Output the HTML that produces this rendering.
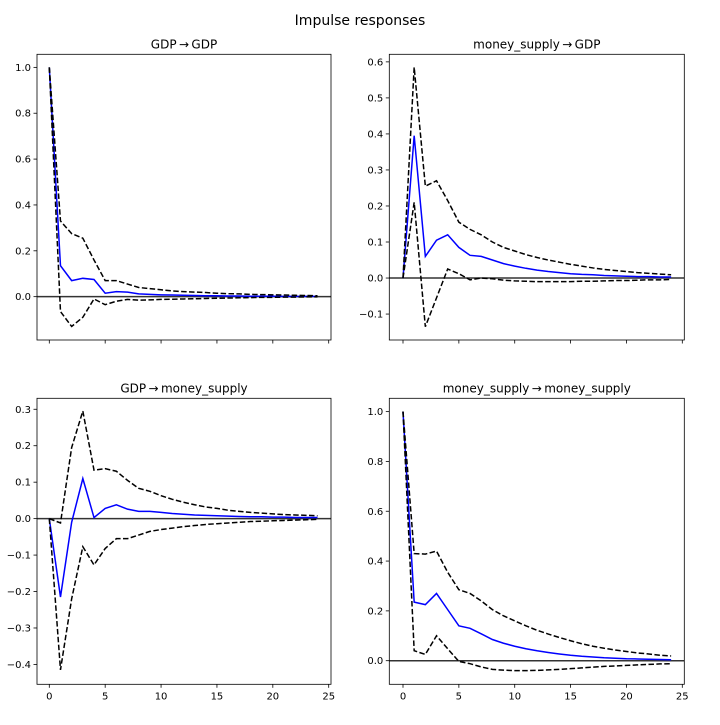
<!DOCTYPE html>
<html><head><meta charset="utf-8"><style>
body{margin:0;background:#fff;width:720px;height:720px;overflow:hidden}
svg{font-family:"DejaVu Sans","Liberation Sans",sans-serif}
</style></head><body>
<svg id="fig" width="720" height="720">
<text x="360" y="25" text-anchor="middle" font-size="14" fill="#000">Impulse responses</text>
</svg>
<script>
const steps = [0,1,2,3,4,5,6,7,8,9,10,11,12,13,14,15,16,17,18,19,20,21,22,23,24];
const xTicks = [0,5,10,15,20,25];

const gdpGdpMean = [1.0,0.135,0.07,0.08,0.075,0.015,0.022,0.02,0.012,0.01,0.008,0.007,0.006,0.005,0.004,0.004,0.003,0.003,0.002,0.002,0.002,0.001,0.001,0.001,0.001];
const gdpGdpUpper = [1.0,0.33,0.275,0.255,0.16,0.07,0.07,0.055,0.04,0.035,0.03,0.025,0.022,0.02,0.018,0.015,0.013,0.012,0.01,0.009,0.008,0.007,0.006,0.005,0.004];
const gdpGdpLower = [1.0,-0.065,-0.13,-0.09,-0.01,-0.035,-0.02,-0.012,-0.015,-0.014,-0.012,-0.011,-0.01,-0.009,-0.008,-0.007,-0.006,-0.005,-0.004,-0.003,-0.003,-0.002,-0.002,-0.001,-0.001];
const gdpGdpTicks = [0.0,0.2,0.4,0.6,0.8,1.0];

const msGdpMean = [0,0.395,0.06,0.105,0.12,0.085,0.063,0.06,0.05,0.04,0.033,0.027,0.022,0.018,0.015,0.012,0.01,0.009,0.007,0.006,0.005,0.004,0.004,0.003,0.003];
const msGdpUpper = [0,0.585,0.255,0.27,0.215,0.155,0.135,0.12,0.1,0.085,0.075,0.065,0.057,0.05,0.044,0.038,0.033,0.028,0.024,0.021,0.018,0.015,0.013,0.011,0.009];
const msGdpLower = [0,0.21,-0.135,-0.055,0.025,0.012,-0.005,0,-0.002,-0.006,-0.008,-0.009,-0.01,-0.01,-0.01,-0.01,-0.009,-0.009,-0.008,-0.007,-0.007,-0.006,-0.005,-0.005,-0.004];
const msGdpTicks = [-0.1,0.0,0.1,0.2,0.3,0.4,0.5,0.6];

const gdpMsMean = [0,-0.215,-0.01,0.11,0.003,0.028,0.038,0.026,0.02,0.02,0.017,0.014,0.012,0.01,0.009,0.008,0.007,0.006,0.005,0.005,0.004,0.004,0.003,0.003,0.003];
const gdpMsUpper = [0,-0.012,0.195,0.295,0.133,0.137,0.13,0.105,0.083,0.075,0.063,0.053,0.045,0.038,0.032,0.028,0.023,0.02,0.017,0.015,0.013,0.011,0.01,0.009,0.008];
const gdpMsLower = [0,-0.415,-0.22,-0.077,-0.127,-0.082,-0.055,-0.055,-0.045,-0.035,-0.03,-0.026,-0.022,-0.019,-0.016,-0.014,-0.012,-0.01,-0.008,-0.007,-0.006,-0.005,-0.004,-0.003,-0.002];
const gdpMsTicks = [-0.4,-0.3,-0.2,-0.1,0.0,0.1,0.2,0.3];

const msMsMean = [1.0,0.235,0.225,0.27,0.205,0.14,0.13,0.108,0.085,0.07,0.058,0.048,0.04,0.033,0.027,0.022,0.018,0.015,0.012,0.01,0.008,0.007,0.006,0.005,0.004];
const msMsUpper = [1.0,0.43,0.428,0.44,0.355,0.285,0.27,0.24,0.205,0.18,0.16,0.14,0.122,0.107,0.093,0.08,0.068,0.058,0.05,0.043,0.037,0.031,0.027,0.022,0.019];
const msMsLower = [1.0,0.04,0.025,0.1,0.048,-0.003,-0.012,-0.025,-0.035,-0.038,-0.04,-0.04,-0.039,-0.037,-0.035,-0.032,-0.029,-0.026,-0.023,-0.021,-0.019,-0.017,-0.015,-0.013,-0.012];
const msMsTicks = [0.0,0.2,0.4,0.6,0.8,1.0];

const NS = "http://www.w3.org/2000/svg";
const fig = document.getElementById('fig');
function mk(tag, attrs, parent){const e=document.createElementNS(NS,tag);for(const k in attrs)e.setAttribute(k,attrs[k]);(parent||fig).appendChild(e);return e;}

function panel(key,title,box,yDom,yTicks,mean,upper,lower,showXLabels){
  const g = mk('g',{});
  
  
  const xs = v => box.x0 + (v - 0) * (box.x25 - box.x0) / 25;
  const ys = v => box.bottom - (v - yDom[0]) * (box.bottom - box.top) / (yDom[1] - yDom[0]);
  const t = mk('text',{x:(box.left+box.right)/2,y:box.top-6,'text-anchor':'middle','font-size':12,fill:'#000'},g);
  t.textContent = title;
  
  
  yTicks.forEach(v=>{
    const y=ys(v);
    mk('line',{x1:box.left-3.5,x2:box.left,y1:y,y2:y,stroke:'#000','stroke-width':0.8},g);
    const tt=mk('text',{x:box.left-6,y:y+3.5,'text-anchor':'end','font-size':10,fill:'#000'},g);
    tt.textContent = (v<0?'\u2212':'')+Math.abs(v).toFixed(1);
    
    
  });
  xTicks.forEach(v=>{
    const x=xs(v);
    mk('line',{x1:x,x2:x,y1:box.bottom,y2:box.bottom+3.5,stroke:'#000','stroke-width':0.8},g);
    if(showXLabels){
      const tt=mk('text',{x:x,y:box.bottom+15,'text-anchor':'middle','font-size':10,fill:'#000'},g);
      tt.textContent=String(v);
      
      
    }
  });
  const pts = arr => steps.map((s,i)=>xs(s).toFixed(2)+','+ys(arr[i]).toFixed(2)).join(' ');
  const z = mk('line',{x1:box.left,x2:box.right,y1:ys(0),y2:ys(0),stroke:'#333','stroke-width':1.5},g);
  
  
  const m = mk('polyline',{points:pts(mean),fill:'none',stroke:'#0000ff','stroke-width':1.5},g);
  
  
  const u = mk('polyline',{points:pts(upper),fill:'none',stroke:'#000','stroke-width':1.5,'stroke-dasharray':'5.5,2.4'},g);
  
  
  const l = mk('polyline',{points:pts(lower),fill:'none',stroke:'#000','stroke-width':1.5,'stroke-dasharray':'5.5,2.4'},g);
  
  
  const fr = mk('rect',{x:box.left,y:box.top,width:box.right-box.left,height:box.bottom-box.top,fill:'none',stroke:'#000','stroke-width':0.8},g);
  
  
}

panel('gdp-gdp','GDP\u2009\u2192\u2009GDP',{left:37,right:331,top:54.3,bottom:340,x0:49.3,x25:328.7},[-0.189,1.057],gdpGdpTicks,gdpGdpMean,gdpGdpUpper,gdpGdpLower,false);
panel('money-gdp','money_supply\u2009\u2192\u2009GDP',{left:389.3,right:684.3,top:54.3,bottom:340,x0:403,x25:682.3},[-0.172,0.621],msGdpTicks,msGdpMean,msGdpUpper,msGdpLower,false);
panel('gdp-money','GDP\u2009\u2192\u2009money_supply',{left:37,right:331,top:398.3,bottom:684.3,x0:49.3,x25:328.7},[-0.4545,0.3301],gdpMsTicks,gdpMsMean,gdpMsUpper,gdpMsLower,true);
panel('money-money','money_supply\u2009\u2192\u2009money_supply',{left:389.3,right:684.3,top:398.3,bottom:684.3,x0:403,x25:682.3},[-0.0948,1.0535],msMsTicks,msMsMean,msMsUpper,msMsLower,true);
</script>
</body></html>
